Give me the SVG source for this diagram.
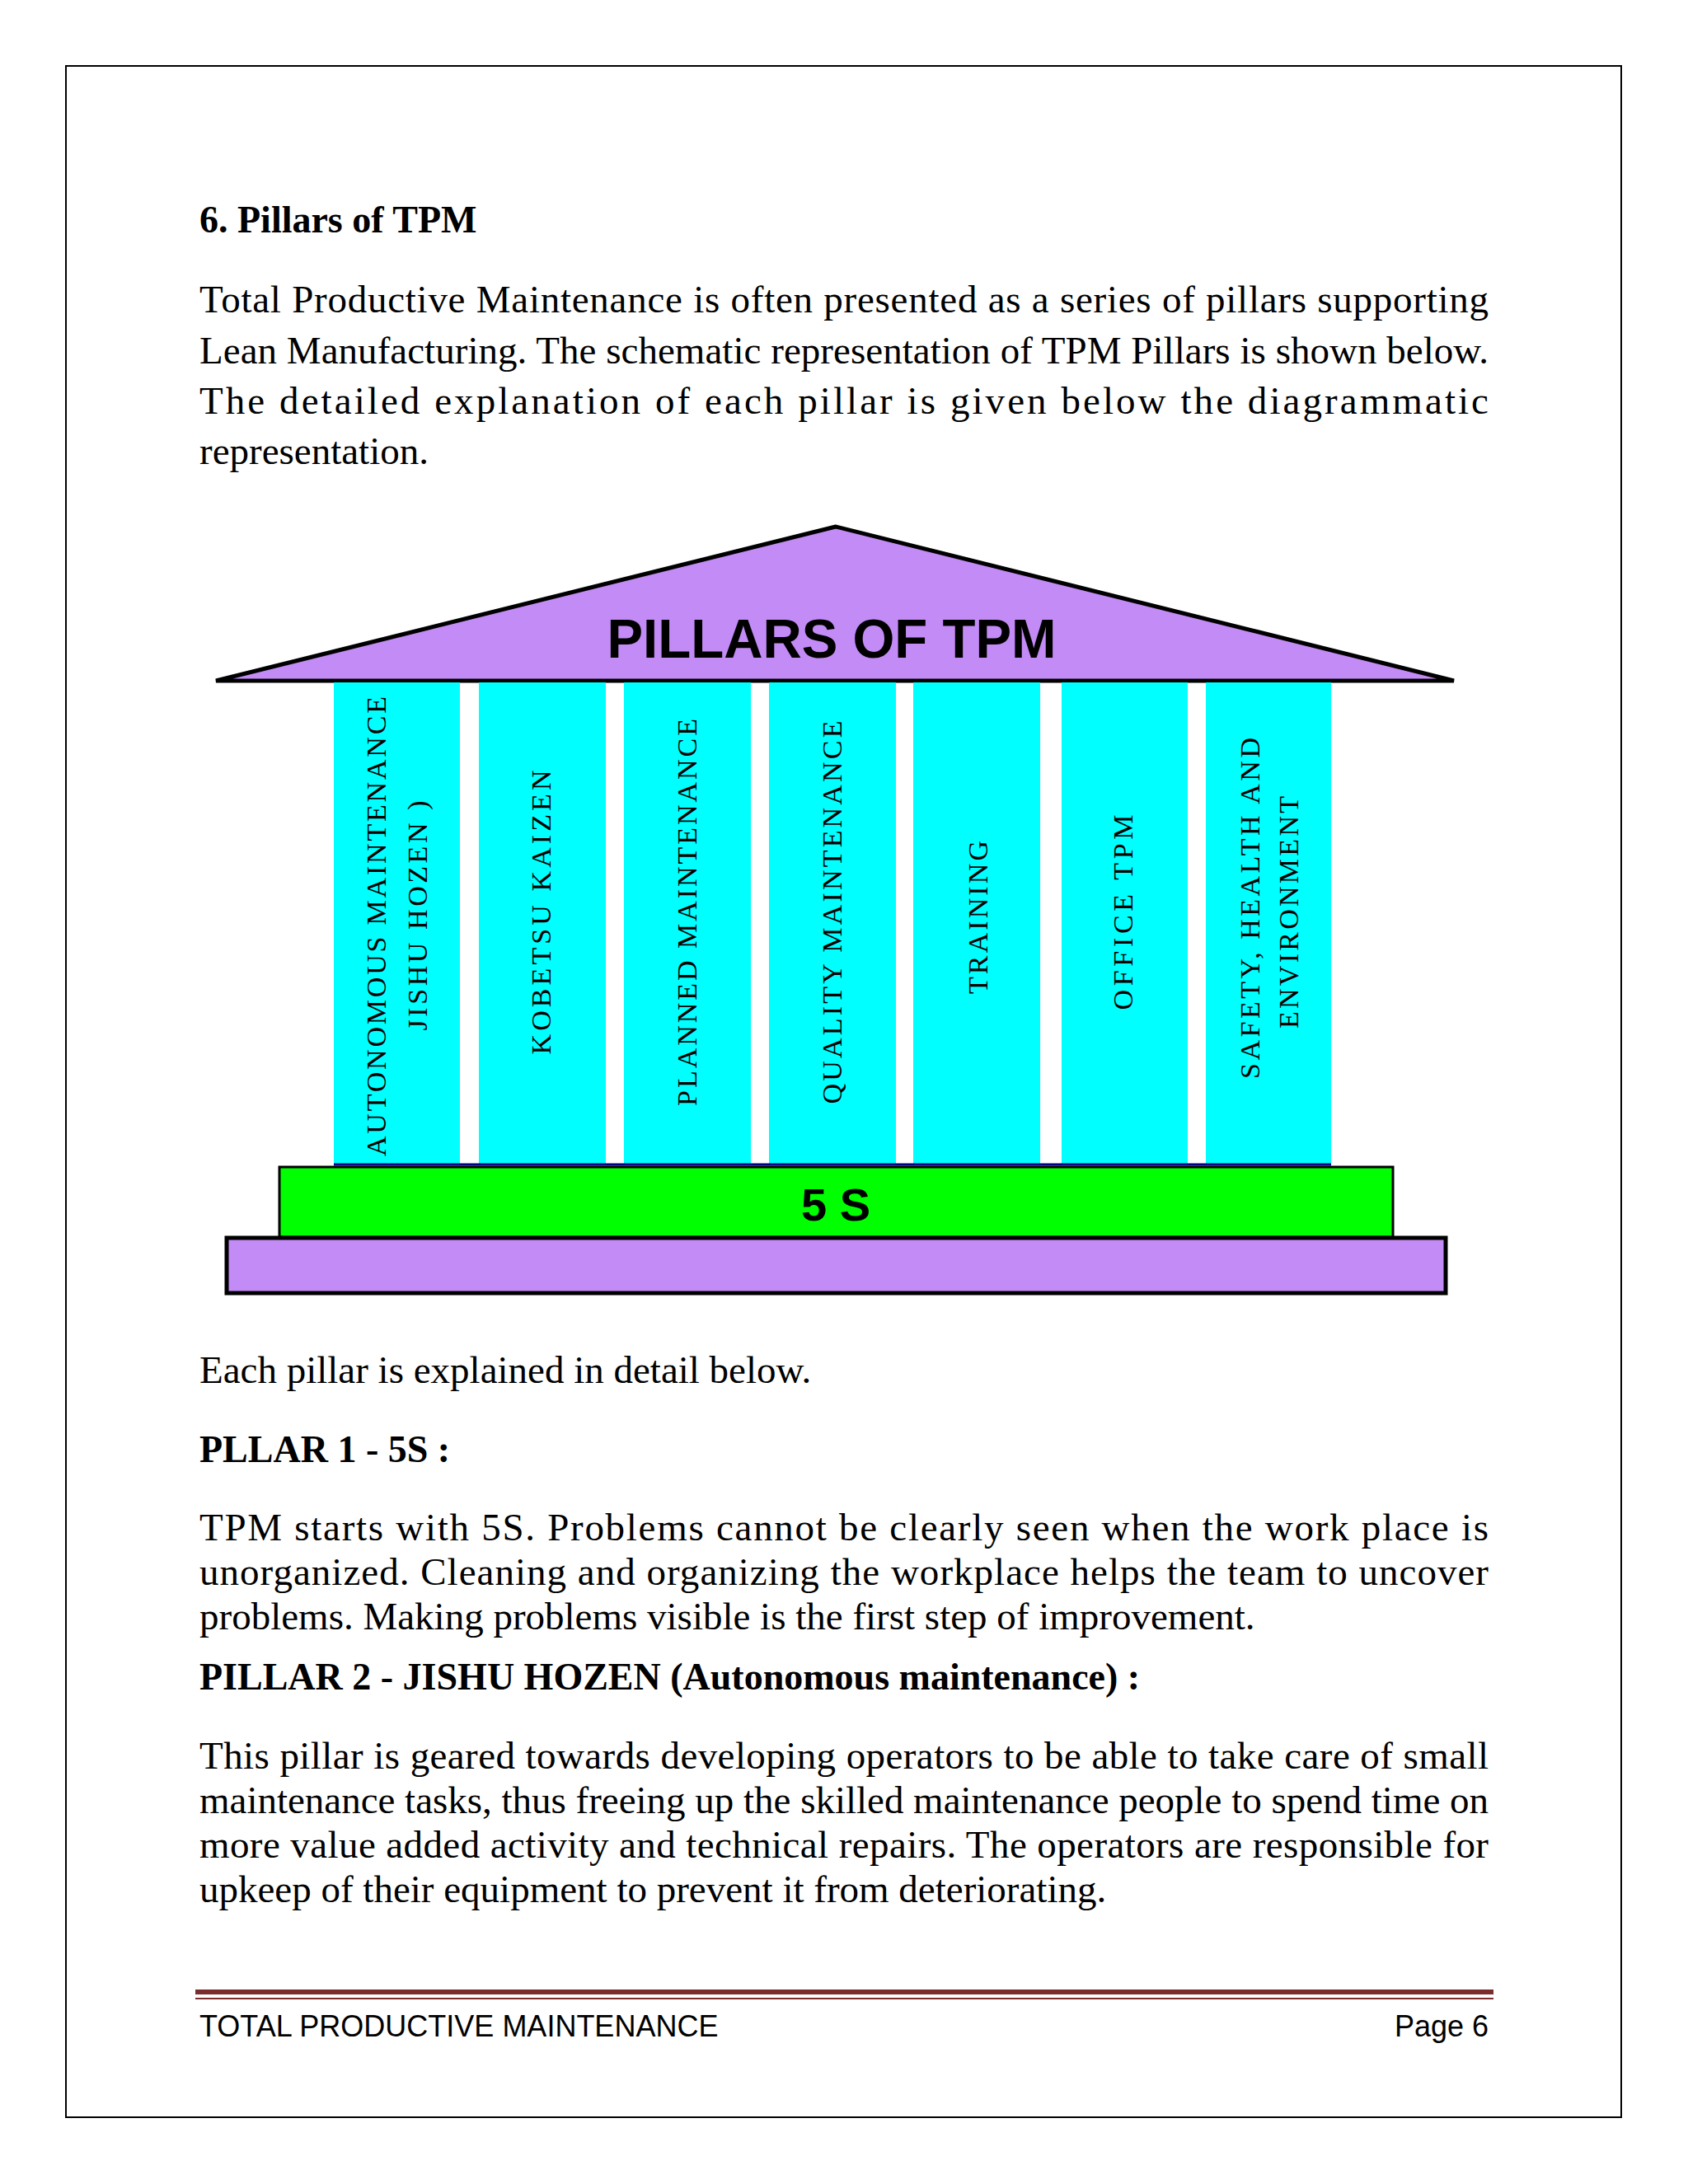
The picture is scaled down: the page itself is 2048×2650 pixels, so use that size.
<svg xmlns="http://www.w3.org/2000/svg" width="2048" height="2650" viewBox="0 0 2048 2650">
<style>
.b{font-family:"Liberation Serif",serif;font-size:47px;fill:#000}
.h{font-family:"Liberation Serif",serif;font-size:46px;font-weight:bold;fill:#000}
.p{font-family:"Liberation Serif",serif;font-size:34px;fill:#000}
.pil{fill:#00ffff}
.f{font-family:"Liberation Sans",sans-serif;font-size:36px;fill:#000}
</style>
<rect width="2048" height="2650" fill="#fff"/>
<rect x="80" y="80" width="1887" height="2489" fill="none" stroke="#000" stroke-width="2"/>
<text class="h" x="242" y="282">6. Pillars of TPM</text>
<text class="b" x="242" y="379" textLength="1564" lengthAdjust="spacing">Total Productive Maintenance is often presented as a series of pillars supporting</text>
<text class="b" x="242" y="441" textLength="1564" lengthAdjust="spacing">Lean Manufacturing. The schematic representation of TPM Pillars is shown below.</text>
<text class="b" x="242" y="502" textLength="1564" lengthAdjust="spacing">The detailed explanation of each pillar is given below the diagrammatic</text>
<text class="b" x="242" y="563">representation.</text>
<g id="roof"><polygon points="1014,639 262,826 1764,826" fill="#c38bf5" stroke="#000" stroke-width="5"/>
<text x="1009" y="798" text-anchor="middle" font-family="Liberation Sans,sans-serif" font-weight="bold" font-size="66" textLength="545" lengthAdjust="spacingAndGlyphs">PILLARS OF TPM</text></g>
<g id="pillar1"><rect class="pil" x="405" y="828" width="153" height="585"/>
<text class="p" transform="translate(468,1124) rotate(-90)" text-anchor="middle" textLength="558" lengthAdjust="spacing">AUTONOMOUS MAINTENANCE</text>
<text class="p" transform="translate(518,1111) rotate(-90)" text-anchor="middle" textLength="279" lengthAdjust="spacing">JISHU HOZEN )</text></g>
<g id="pillar2"><rect class="pil" x="581" y="828" width="154" height="585"/>
<text class="p" transform="translate(668,1107) rotate(-90)" text-anchor="middle" textLength="345" lengthAdjust="spacing">KOBETSU KAIZEN</text></g>
<g id="pillar3"><rect class="pil" x="757" y="828" width="154" height="585"/>
<text class="p" transform="translate(845,1107) rotate(-90)" text-anchor="middle" textLength="470" lengthAdjust="spacing">PLANNED MAINTENANCE</text></g>
<g id="pillar4"><rect class="pil" x="933" y="828" width="154" height="585"/>
<text class="p" transform="translate(1021,1107) rotate(-90)" text-anchor="middle" textLength="465" lengthAdjust="spacing">QUALITY MAINTENANCE</text></g>
<g id="pillar5"><rect class="pil" x="1108" y="828" width="154" height="585"/>
<text class="p" transform="translate(1198,1113) rotate(-90)" text-anchor="middle" textLength="186" lengthAdjust="spacing">TRAINING</text></g>
<g id="pillar6"><rect class="pil" x="1288" y="828" width="153" height="585"/>
<text class="p" transform="translate(1374,1107) rotate(-90)" text-anchor="middle" textLength="237" lengthAdjust="spacing">OFFICE  TPM</text></g>
<g id="pillar7"><rect class="pil" x="1463" y="828" width="152" height="585"/>
<text class="p" transform="translate(1528,1102) rotate(-90)" text-anchor="middle" textLength="414" lengthAdjust="spacing">SAFETY, HEALTH AND</text>
<text class="p" transform="translate(1575,1107) rotate(-90)" text-anchor="middle" textLength="282" lengthAdjust="spacing">ENVIRONMENT</text></g>
<line x1="405" y1="1413" x2="1615" y2="1413" stroke="#00008b" stroke-width="3"/>
<g id="fiveS"><rect x="339" y="1416" width="1351" height="85" fill="#00ff00" stroke="#000" stroke-width="3"/>
<text x="1014" y="1481" text-anchor="middle" font-family="Liberation Sans,sans-serif" font-weight="bold" font-size="56">5 S</text></g>
<g id="base"><rect x="275" y="1502" width="1479" height="67" fill="#c38bf5" stroke="#000" stroke-width="5"/></g>
<text class="b" x="242" y="1678">Each pillar is explained in detail below.</text>
<text class="h" x="242" y="1774">PLLAR 1 - 5S :</text>
<text class="b" x="242" y="1869" textLength="1564" lengthAdjust="spacing">TPM starts with 5S. Problems cannot be clearly seen when the work place is</text>
<text class="b" x="242" y="1923" textLength="1564" lengthAdjust="spacing">unorganized. Cleaning and organizing the workplace helps the team to uncover</text>
<text class="b" x="242" y="1977">problems. Making problems visible is the first step of improvement.</text>
<text class="h" x="242" y="2050">PILLAR 2 - JISHU HOZEN (Autonomous maintenance) :</text>
<text class="b" x="242" y="2146" textLength="1564" lengthAdjust="spacing">This pillar is geared towards developing operators to be able to take care of small</text>
<text class="b" x="242" y="2200" textLength="1564" lengthAdjust="spacing">maintenance tasks, thus freeing up the skilled maintenance people to spend time on</text>
<text class="b" x="242" y="2254" textLength="1564" lengthAdjust="spacing">more value added activity and technical repairs. The operators are responsible for</text>
<text class="b" x="242" y="2308">upkeep of their equipment to prevent it from deteriorating.</text>
<line x1="237" y1="2417" x2="1812" y2="2417" stroke="#7b2c2c" stroke-width="6"/>
<line x1="237" y1="2425" x2="1812" y2="2425" stroke="#7b2c2c" stroke-width="2"/>
<text class="f" x="242" y="2471">TOTAL PRODUCTIVE MAINTENANCE</text>
<text class="f" x="1806" y="2471" text-anchor="end">Page 6</text>
</svg>
